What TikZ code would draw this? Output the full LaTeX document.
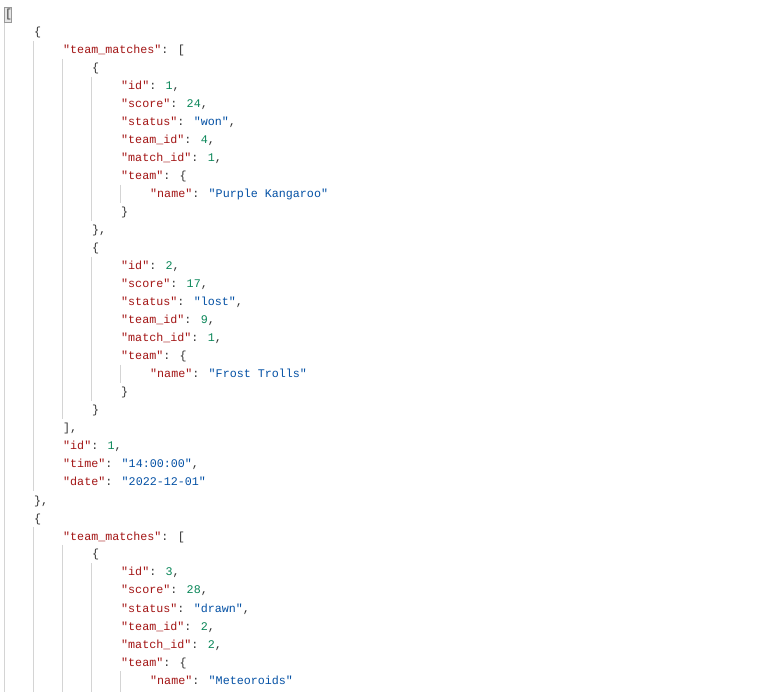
\documentclass[tikz,border=0pt]{standalone}
\usepackage{fontspec}
\newfontfamily\codefont{Liberation Mono}
\definecolor{keyc}{HTML}{A31515}
\definecolor{numc}{HTML}{098658}
\definecolor{strc}{HTML}{0451A5}
\definecolor{punc}{HTML}{333333}
\definecolor{guide}{HTML}{D4D4D4}
\newcommand{\jk}[1]{\textcolor{keyc}{"#1"}}
\newcommand{\jn}[1]{\textcolor{numc}{#1}}
\newcommand{\js}[1]{\textcolor{strc}{"#1"}}
\tikzset{codeline/.style={anchor=base west,inner sep=0pt,font=\codefont\fontsize{11.7}{14}\selectfont,text=punc}}
\newcommand{\CL}[3]{\node[codeline] (l#2) at ({5+29*#1},{14+18*#2+4}) {#3};}
\newcommand{\GD}[3]{\draw[guide,line width=0.8pt] ({4+29*#1},{14+18*#2-9}) -- ({4+29*#1},{14+18*#3+9});}
\begin{document}
\begin{tikzpicture}[x=1pt,y=-1pt]
\fill[white] (0,0) rectangle (777,692);
\useasboundingbox (0,0) rectangle (777,692);
% guides
\draw[guide,line width=0.8pt] (4,23) -- (4,692);
\GD{1}{2}{26}
\GD{1}{29}{38}
\GD{2}{3}{22}
\GD{2}{30}{38}
\GD{3}{4}{11}
\GD{3}{14}{21}
\GD{3}{31}{38}
\GD{4}{10}{10}
\GD{4}{20}{20}
\GD{4}{37}{38}
\filldraw[fill=guide!60,draw=gray!80,line width=0.6pt] (4.5,7) rectangle (11.5,22);
\CL{0}{0}{[}
\CL{1}{1}{\{}
\CL{2}{2}{\jk{team\_matches}: [}
\CL{3}{3}{\{}
\CL{4}{4}{\jk{id}: \jn{1},}
\CL{4}{5}{\jk{score}: \jn{24},}
\CL{4}{6}{\jk{status}: \js{won},}
\CL{4}{7}{\jk{team\_id}: \jn{4},}
\CL{4}{8}{\jk{match\_id}: \jn{1},}
\CL{4}{9}{\jk{team}: \{}
\CL{5}{10}{\jk{name}: \js{Purple Kangaroo}}
\CL{4}{11}{\}}
\CL{3}{12}{\},}
\CL{3}{13}{\{}
\CL{4}{14}{\jk{id}: \jn{2},}
\CL{4}{15}{\jk{score}: \jn{17},}
\CL{4}{16}{\jk{status}: \js{lost},}
\CL{4}{17}{\jk{team\_id}: \jn{9},}
\CL{4}{18}{\jk{match\_id}: \jn{1},}
\CL{4}{19}{\jk{team}: \{}
\CL{5}{20}{\jk{name}: \js{Frost Trolls}}
\CL{4}{21}{\}}
\CL{3}{22}{\}}
\CL{2}{23}{],}
\CL{2}{24}{\jk{id}: \jn{1},}
\CL{2}{25}{\jk{time}: \js{14:00:00},}
\CL{2}{26}{\jk{date}: \js{2022-12-01}}
\CL{1}{27}{\},}
\CL{1}{28}{\{}
\CL{2}{29}{\jk{team\_matches}: [}
\CL{3}{30}{\{}
\CL{4}{31}{\jk{id}: \jn{3},}
\CL{4}{32}{\jk{score}: \jn{28},}
\CL{4}{33}{\jk{status}: \js{drawn},}
\CL{4}{34}{\jk{team\_id}: \jn{2},}
\CL{4}{35}{\jk{match\_id}: \jn{2},}
\CL{4}{36}{\jk{team}: \{}
\CL{5}{37}{\jk{name}: \js{Meteoroids}}
\end{tikzpicture}
\end{document}
